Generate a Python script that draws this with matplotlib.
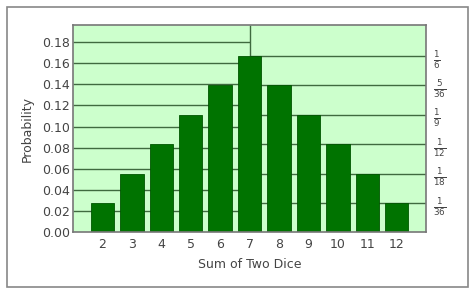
import matplotlib
matplotlib.use("Agg")
import matplotlib.pyplot as plt
from matplotlib.patches import Rectangle

sums = [2, 3, 4, 5, 6, 7, 8, 9, 10, 11, 12]
ways = [1, 2, 3, 4, 5, 6, 5, 4, 3, 2, 1]
probs = [w / 36 for w in ways]
left_ticks = [0.00, 0.02, 0.04, 0.06, 0.08, 0.10, 0.12, 0.14, 0.16, 0.18]
right_ticks = [1 / 36, 2 / 36, 3 / 36, 4 / 36, 5 / 36, 6 / 36]
right_labels = [r"$\frac{1}{36}$", r"$\frac{1}{18}$", r"$\frac{1}{12}$",
                r"$\frac{1}{9}$", r"$\frac{5}{36}$", r"$\frac{1}{6}$"]

fig = plt.figure(figsize=(4.74, 2.93), dpi=100)
fig.patches.append(Rectangle((0.015, 0.022), 0.972, 0.953, transform=fig.transFigure,
                             fill=False, edgecolor="#888888", linewidth=1.2))
ax = fig.add_axes([0.154, 0.207, 0.745, 0.708])
ax.set_facecolor("#ccffcc")
ax.set_xlim(1, 13)
ax.set_ylim(0, 0.196)

grid_c = "#3f6a3f"
ax.hlines(left_ticks[1:], 1, 7, colors=grid_c, linewidth=1.0, zorder=1)
ax.hlines(right_ticks, 7, 13, colors=grid_c, linewidth=1.0, zorder=1)
ax.vlines(7, 6 / 36, 0.196, colors=grid_c, linewidth=1.0, zorder=1)

ax.bar(sums, probs, width=0.8, color="#007300", edgecolor="#005500", linewidth=0.6, zorder=2)

ax.set_xticks(sums)
ax.set_yticks(left_ticks)
ax.set_yticklabels([f"{t:.2f}" for t in left_ticks])
ax.tick_params(axis="both", length=0, labelsize=9, labelcolor="#444444", pad=2)
ax.tick_params(axis="x", pad=4)
ax.set_xlabel("Sum of Two Dice", fontsize=9, color="#444444", labelpad=5)
ax.set_ylabel("Probability", fontsize=9, color="#444444", labelpad=6)
for s in ax.spines.values():
    s.set_color("#777777")
    s.set_linewidth(1.2)

ax2 = ax.twinx()
ax2.set_ylim(ax.get_ylim())
ax2.set_yticks(right_ticks)
ax2.set_yticklabels(right_labels)
ax2.tick_params(axis="y", length=0, labelsize=9, labelcolor="#444444", pad=5)
for s in ax2.spines.values():
    s.set_visible(False)

fig.savefig("out.png", dpi=100)
